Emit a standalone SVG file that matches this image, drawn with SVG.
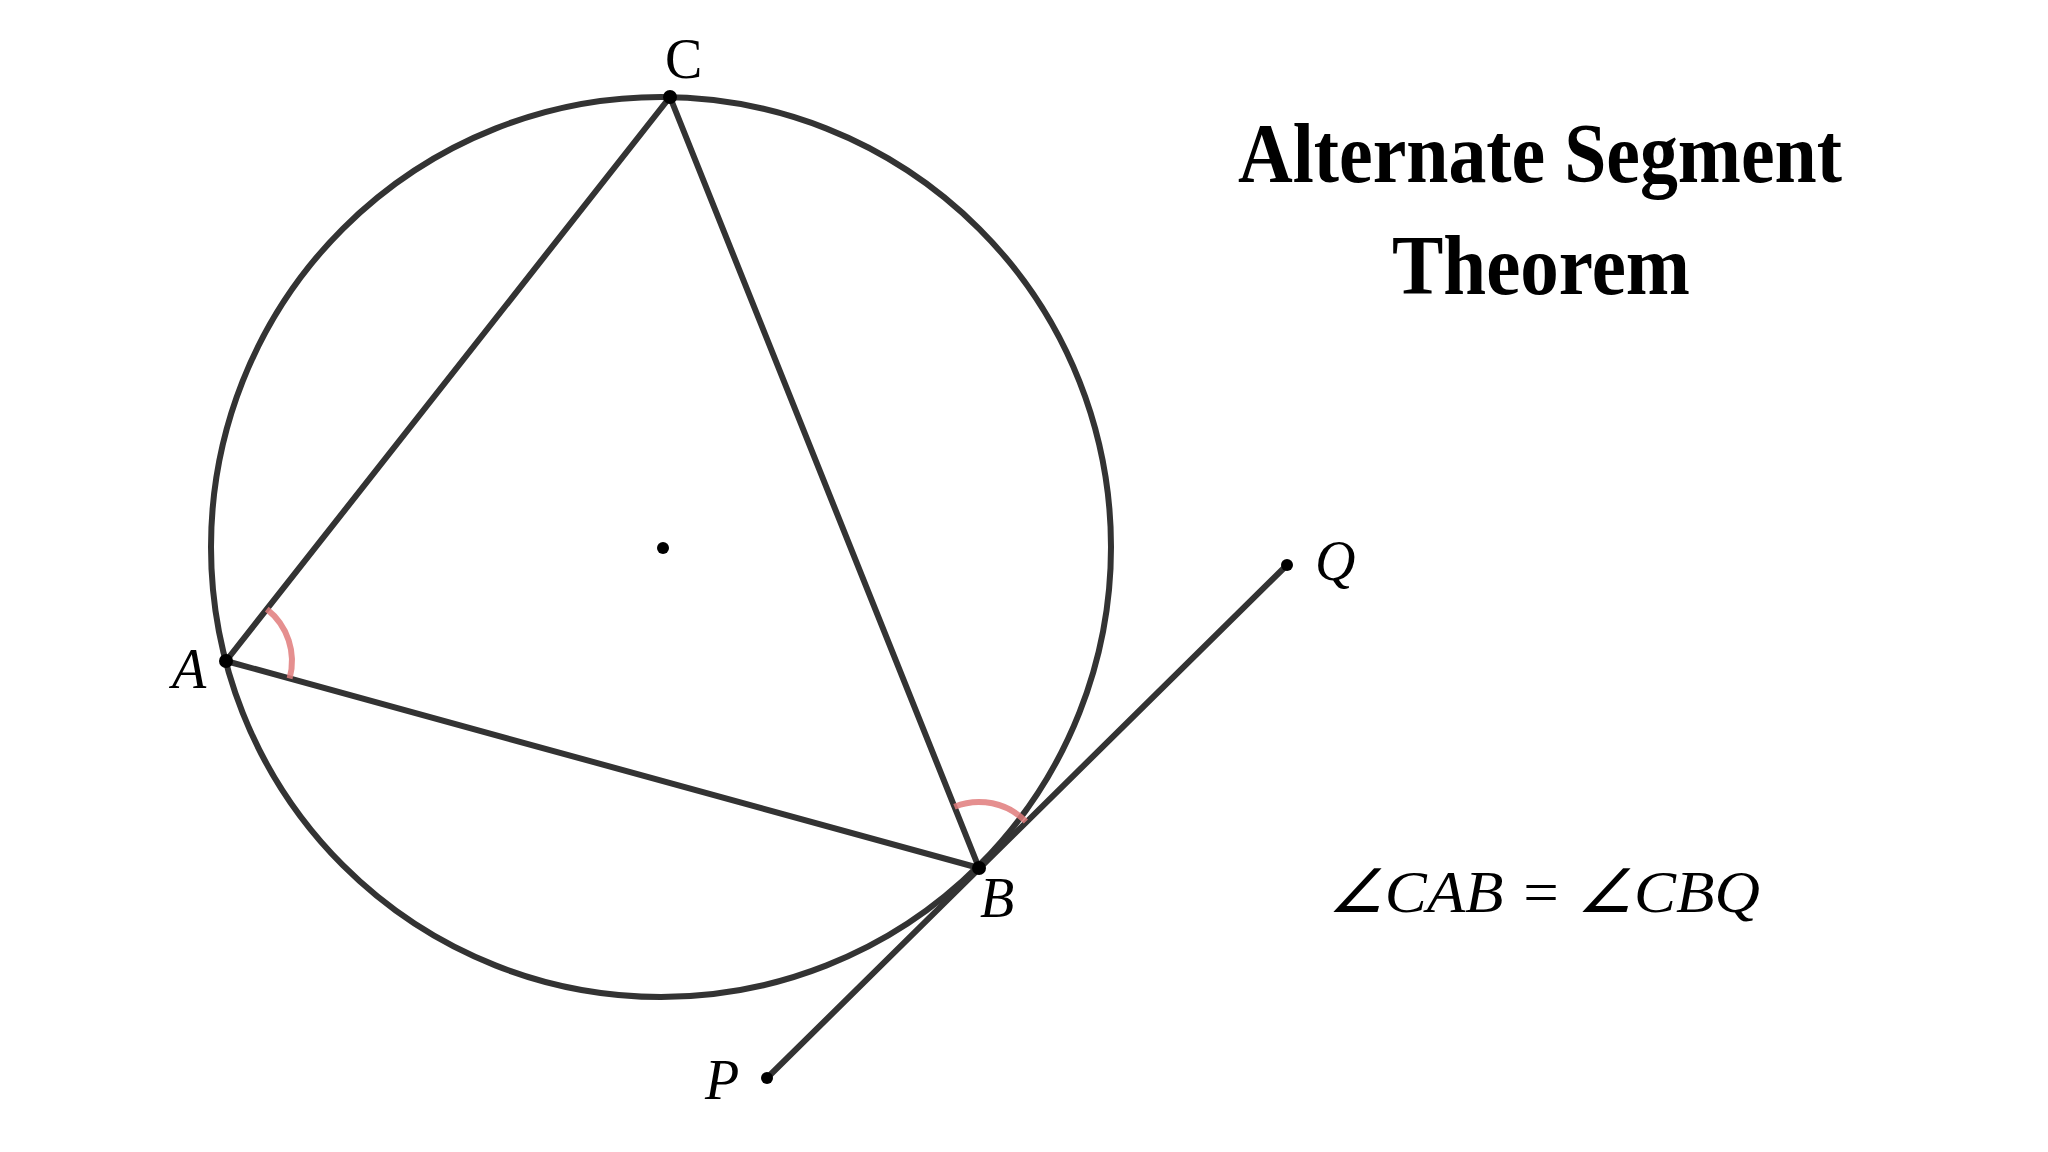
<svg xmlns="http://www.w3.org/2000/svg" width="2048" height="1152" viewBox="0 0 2048 1152">
<style>
.ln{stroke:#333333;stroke-width:6;fill:none;stroke-linecap:round}
.ang{stroke:#e07b7b;stroke-opacity:0.85;stroke-width:6;fill:none}
.pt{fill:#000000}
.lbl{font-family:"Liberation Serif",serif;font-style:italic;font-size:56px;fill:#000}
.ttl{font-family:"Liberation Serif",serif;font-weight:bold;font-size:84px;fill:#000;text-anchor:middle}
.eq{font-family:"Liberation Serif",serif;font-style:italic;font-size:60px;fill:#000}
</style>
<rect width="2048" height="1152" fill="#ffffff"/>
<g id="circle"><circle class="ln" cx="661" cy="547" r="450"/></g>
<g id="connectors">
<line class="ln" x1="226" y1="661" x2="670" y2="97"/>
<line class="ln" x1="670" y1="97" x2="979" y2="868"/>
<line class="ln" x1="226" y1="661" x2="979" y2="868"/>
<line class="ln" x1="767" y1="1078" x2="1287" y2="565"/>
</g>
<g id="angles">
<path class="ang" d="M266.8,609.1 A66,66 0 0 1 289.6,678.5"/>
<path class="ang" d="M954.4,806.7 A66,66 0 0 1 1025.9,821.5"/>
</g>
<g id="node-O"><circle class="pt" cx="663" cy="548" r="6"/></g>
<g id="node-C"><circle class="pt" cx="670" cy="97" r="7"/><text x="665" y="78" font-family="Liberation Serif, serif" font-size="56">C</text></g>
<g id="node-A"><circle class="pt" cx="226" cy="661" r="7"/><text class="lbl" x="172" y="688">A</text></g>
<g id="node-B"><circle class="pt" cx="979" cy="868" r="7"/><text class="lbl" x="980" y="917">B</text></g>
<g id="node-P"><circle class="pt" cx="767" cy="1078" r="6"/><text class="lbl" x="705" y="1099">P</text></g>
<g id="node-Q"><circle class="pt" cx="1287" cy="565" r="6"/><text class="lbl" x="1315" y="580">Q</text></g>
<g id="title">
<text class="ttl" x="1540" y="182" textLength="604" lengthAdjust="spacingAndGlyphs">Alternate Segment</text>
<text class="ttl" x="1541" y="294" textLength="298" lengthAdjust="spacingAndGlyphs">Theorem</text>
</g>
<g id="equation"><text class="eq" x="1328" y="912" textLength="432" lengthAdjust="spacingAndGlyphs">∠CAB = ∠CBQ</text></g>
</svg>
